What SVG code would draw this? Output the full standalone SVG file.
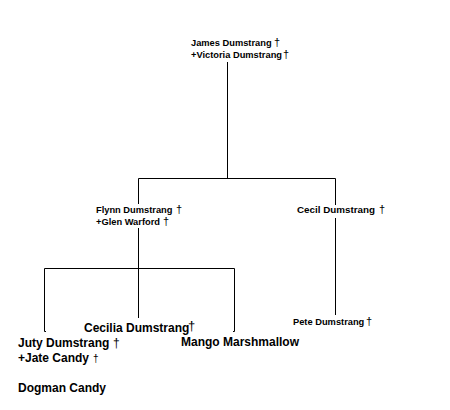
<svg xmlns="http://www.w3.org/2000/svg" width="450" height="410" viewBox="0 0 450 410">
<style>
.l{stroke:#000;stroke-width:1;fill:none}
text{font-family:"Liberation Sans",Arial,sans-serif;font-weight:bold;fill:#000}
.s{font-size:9.3px}
.b{font-size:12px}
.d{font-size:11px;font-weight:normal}
</style>
<rect width="450" height="410" fill="#fff"/>
<g id="connectors">
<path class="l" d="M227.5 62V178.5M138.5 178.5H335.5M138.5 178.5V204M335.5 178.5V205M138.5 228V268.5M335.5 218V315M44.5 268.5H234.5M44.5 268.5V331.5H46M138.5 268.5V318M234.5 268.5V331.5H233"/>
</g>
<g id="james">
<text class="s" x="191" y="46">James Dumstrang<tspan class="d" x="274">†</tspan></text>
<text class="s" x="191" y="58">+Victoria Dumstrang<tspan class="d" x="283">†</tspan></text>
</g>
<g id="flynn">
<text class="s" x="96" y="213">Flynn Dumstrang<tspan class="d" x="176">†</tspan></text>
<text class="s" x="96" y="225">+Glen Warford<tspan class="d" x="163">†</tspan></text>
</g>
<g id="cecil">
<text class="s" x="297" y="213" textLength="78" lengthAdjust="spacingAndGlyphs">Cecil Dumstrang</text>
<text class="s d" x="379" y="213">†</text>
</g>
<g id="pete">
<text class="s" x="293" y="325">Pete Dumstrang<tspan class="d" x="366">†</tspan></text>
</g>
<g id="cecilia">
<text class="b" x="84" y="332">Cecilia Dumstrang<tspan x="188" y="330" font-weight="normal" font-size="13">†</tspan></text>
</g>
<g id="juty">
<text class="b" x="18" y="347">Juty Dumstrang<tspan x="113" font-weight="normal">†</tspan></text>
<text class="b" x="18" y="362">+Jate Candy<tspan x="93" font-size="10" font-weight="normal">†</tspan></text>
</g>
<g id="mango">
<text class="b" x="181" y="346">Mango Marshmallow</text>
</g>
<g id="dogman">
<text class="b" x="18" y="392">Dogman Candy</text>
</g>
</svg>
